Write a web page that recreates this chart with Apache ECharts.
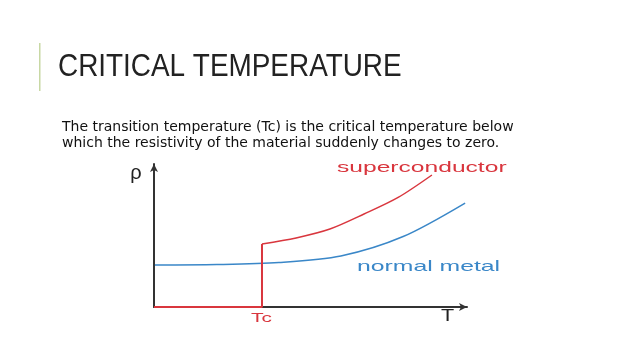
<!DOCTYPE html>
<html>
<head>
<meta charset="utf-8">
<script src="https://cdn.jsdelivr.net/npm/echarts@6/dist/echarts.min.js"></script>
<style>
html,body{margin:0;padding:0;background:#fff;}
#chart{width:638px;height:359px;}
</style>
</head>
<body>
<div id="chart"></div>
<script>
// Data (arbitrary units: T on 0..100, rho on 0..100)
var tc = 34.5;
var rhoJump = 44.1;
var superStepT = [0, tc, tc];
var superStepRho = [0, 0, rhoJump];
var superCurveT = [34.5, 45.4, 56.2, 67.1, 78.0, 88.8];
var superCurveRho = [44.1, 48.3, 54.5, 65.0, 76.6, 92.3];
var metalT = [0.3, 20.1, 39.9, 59.7, 79.6, 99.4];
var metalRho = [29.4, 29.7, 31.1, 35.7, 49.3, 72.7];
var titleText = 'CRITICAL TEMPERATURE';
var bodyLines = [
  'The transition temperature (Tc) is the critical temperature below',
  'which the resistivity of the material suddenly changes to zero.'
];
var curveLabels = ['superconductor', 'normal metal'];
var axisLabels = ['ρ', 'T', 'Tc'];

function zip(a, b) { return a.map(function (v, i) { return [v, b[i]]; }); }

var RED = '#d9363e';
var BLUE = '#3a87c8';

var chart = echarts.init(document.getElementById('chart'), null, {renderer: 'canvas'});
var axisCommon = {
  type: 'value', min: 0, max: 100,
  axisLine: {show: true, lineStyle: {color: '#333', width: 2}, symbol: ['none', 'arrow'], symbolSize: [6, 8]},
  axisTick: {show: false}, axisLabel: {show: false}, splitLine: {show: false}
};
chart.setOption({
  animation: false,
  backgroundColor: '#ffffff',
  grid: {left: 154, top: 164, width: 313, height: 143},
  xAxis: Object.assign({}, axisCommon),
  yAxis: Object.assign({}, axisCommon),
  series: [
    {type: 'line', data: zip(metalT, metalRho), smooth: 0.3, symbol: 'none', clip: false,
     lineStyle: {color: BLUE, width: 1.5}, z: 3},
    {type: 'line', data: zip(superStepT, superStepRho), smooth: false, symbol: 'none', clip: false,
     lineStyle: {color: RED, width: 2}, z: 4},
    {type: 'line', data: zip(superCurveT, superCurveRho), smooth: 0.3, symbol: 'none', clip: false,
     lineStyle: {color: RED, width: 1.5}, z: 4}
  ],
  graphic: [
    {type: 'rect', shape: {x: 39, y: 43, width: 1.5, height: 48}, style: {fill: '#c8d8a4'}},
    {type: 'text', x: 58, y: 67, scaleX: 0.9, style: {text: titleText, font: "31px 'Liberation Sans', sans-serif", fill: '#222', align: 'left', verticalAlign: 'middle'}},
    {type: 'text', x: 62, y: 127, style: {text: bodyLines[0], font: "14px 'DejaVu Sans', sans-serif", fill: '#111', align: 'left', verticalAlign: 'middle'}},
    {type: 'text', x: 62, y: 143, style: {text: bodyLines[1], font: "14px 'DejaVu Sans', sans-serif", fill: '#111', align: 'left', verticalAlign: 'middle'}},
    {type: 'text', x: 337, y: 168, scaleX: 1.64, style: {text: curveLabels[0], font: "15px 'Liberation Sans', sans-serif", fill: RED, align: 'left', verticalAlign: 'middle'}},
    {type: 'text', x: 357, y: 267, scaleX: 1.65, style: {text: curveLabels[1], font: "15px 'Liberation Sans', sans-serif", fill: BLUE, align: 'left', verticalAlign: 'middle'}},
    {type: 'text', x: 136, y: 173, style: {text: axisLabels[0], font: "20px 'Liberation Sans', sans-serif", fill: '#222', align: 'center', verticalAlign: 'middle'}},
    {type: 'text', x: 441, y: 317, scaleX: 1.35, style: {text: axisLabels[1], font: "16px 'Liberation Sans', sans-serif", fill: '#222', align: 'left', verticalAlign: 'middle'}},
    {type: 'text', x: 251, y: 318, scaleX: 1.6, style: {text: axisLabels[2], font: "13px 'Liberation Sans', sans-serif", fill: RED, align: 'left', verticalAlign: 'middle'}}
  ]
});
</script>
</body>
</html>
